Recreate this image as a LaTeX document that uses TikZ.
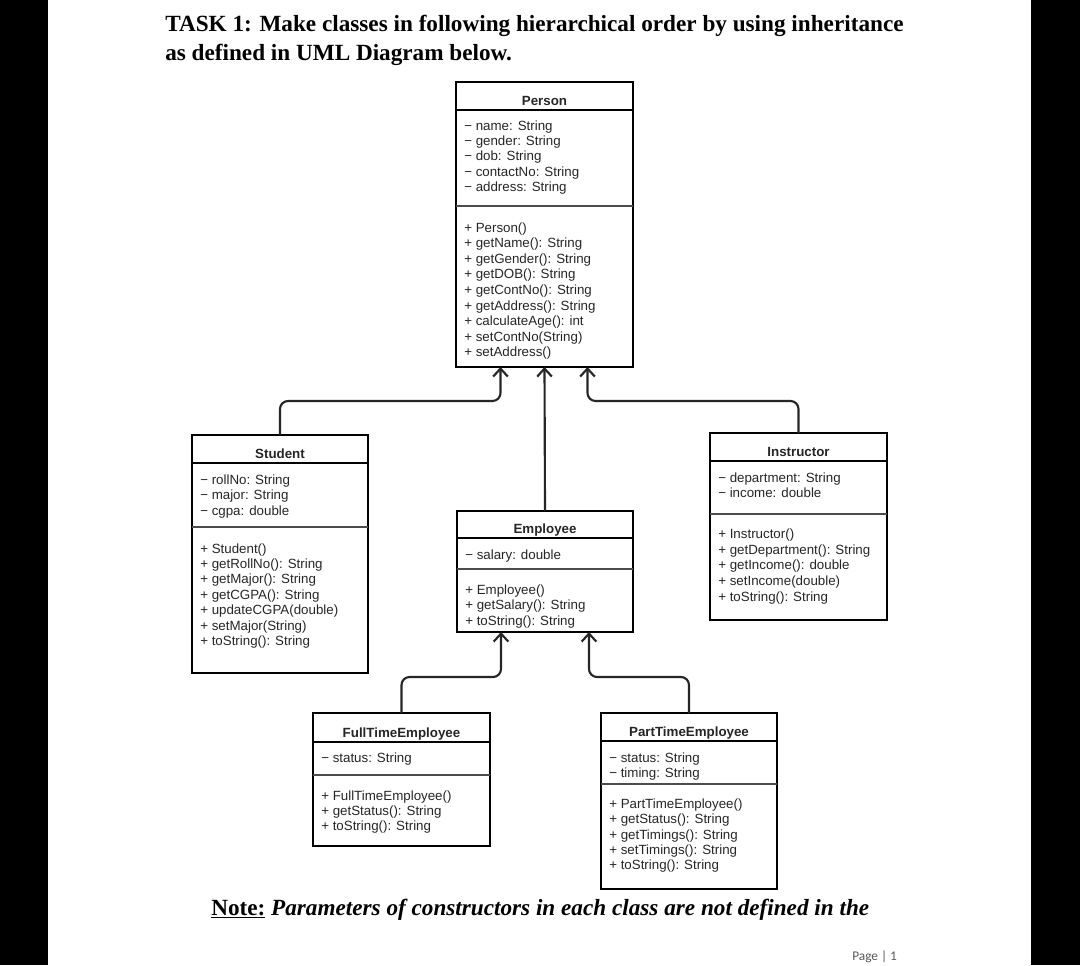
\documentclass[tikz,border=0pt]{standalone}
\usepackage{fontspec}
\setmainfont{Liberation Serif}
\newfontfamily\umlfont{Liberation Sans}
\newfontfamily\pagefont{Carlito}
\usetikzlibrary{arrows.meta,calc}
\newcommand{\umlbox}[8]{%
  \node[classbox, minimum width={(#4-#2)*0.75pt}, minimum height={(#5-#3)*0.75pt}] (#1) at (#2,#3) {};
  \draw[titlesep] (#2,#6) -- (#4,#6);
  \draw[attrsep] (#2,#7) -- (#4,#7);
  \node[ttl] (#1-title) at ({(#2+#4)/2},#6-5) {#8};
}
\newcommand{\umllines}[5]{%
  \foreach \t [count=\i] in {#5} {\node[mtxt] (#1\i) at (#2,{#3+(\i-1)*#4}) {\t};}
}
\begin{document}
\begin{tikzpicture}[x=0.75pt,y=-0.75pt,
  classbox/.style={draw=black, line width=2.2pt, fill=white, inner sep=0pt, outer sep=0pt, anchor=north west},
  titlesep/.style={line width=2.2pt, draw=black},
  attrsep/.style={line width=1.1pt, draw=black!70},
  mtxt/.style={font=\umlfont\fontsize{10pt}{12pt}\selectfont, anchor=base west, inner sep=0pt, text=black!85},
  ttl/.style={font=\umlfont\bfseries\fontsize{10pt}{12pt}\selectfont, anchor=base, inner sep=0pt, text=black!85},
  inh/.style={line width=1.6pt, draw=black!85, rounded corners=6pt, -{Straight Barb[length=6pt,width=11pt,line width=1.6pt]}},
  hdr/.style={font=\bfseries\fontsize{17.4pt}{22pt}\selectfont, anchor=base west, inner sep=0pt}]
\useasboundingbox (0,0) rectangle (1080,965);
\clip (0,0) rectangle (1080,965);
\fill[white] (0,0) rectangle (1080,965);
\fill[black] (0,0) rectangle (48,965);
\fill[black] (1031,0) rectangle (1080,965);

% header
\node[hdr] (h1) at (165,31) {TASK 1: Make classes in following hierarchical order by using inheritance};
\node[hdr] (h2) at (165,60) {as defined in UML Diagram below.};

% classes
\umlbox{person}{456}{82}{633}{367}{110}{206}{Person}
\umllines{pa}{464}{130}{15.4}{−~name: String,−~gender: String,−~dob: String,−~contactNo: String,−~address: String}
\umllines{pm}{464}{232}{15.6}{+~Person(),+~getName(): String,+~getGender(): String,+~getDOB(): String,+~getContNo(): String,+~getAddress(): String,+~calculateAge(): int,+~setContNo(String),+~setAddress()}

\umlbox{student}{192}{435}{368}{673}{463}{527}{Student}
\umllines{sa}{200}{484}{15.5}{−~rollNo: String,−~major: String,−~cgpa: double}
\umllines{sm}{200}{553}{15.4}{+~Student(),+~getRollNo(): String,+~getMajor(): String,+~getCGPA(): String,+~updateCGPA(double),+~setMajor(String),+~toString(): String}

\umlbox{instructor}{710}{433}{887}{620}{461}{514}{Instructor}
\umllines{ia}{718}{482}{15.4}{−~department: String,−~income: double}
\umllines{im}{718}{538.5}{15.7}{+~Instructor(),+~getDepartment(): String,+~getIncome(): double,+~setIncome(double),+~toString(): String}

\umlbox{employee}{457}{511}{633}{632}{538}{569}{Employee}
\umllines{ea}{465}{559}{15.5}{−~salary: double}
\umllines{em}{465}{594}{15.5}{+~Employee(),+~getSalary(): String,+~toString(): String}

\umlbox{fulltime}{313}{713}{490}{846}{742}{775}{FullTimeEmployee}
\umllines{fa}{321}{762}{15.5}{−~status: String}
\umllines{fm}{321}{800}{15.4}{+~FullTimeEmployee(),+~getStatus(): String,+~toString(): String}

\umlbox{parttime}{601}{713}{777}{889}{741}{784}{PartTimeEmployee}
\umllines{ta}{609}{762}{15.5}{−~status: String,−~timing: String}
\umllines{tm}{609}{808.3}{15.4}{+~PartTimeEmployee(),+~getStatus(): String,+~getTimings(): String,+~setTimings(): String,+~toString(): String}

% inheritance connectors
\coordinate (pL) at ($(person.south)+(-44,0)$);
\coordinate (pR) at ($(person.south)+(43,0)$);
\coordinate (eL) at ($(employee.south)+(-44,0)$);
\coordinate (eR) at ($(employee.south)+(44,0)$);
\draw[inh] (student.north) |- ($(pL)+(0,34)$) -- (pL);
\draw[inh] (employee.north) -- (person.south);
\draw[inh] (instructor.north) |- ($(pR)+(0,34)$) -- (pR);
\draw[inh] (fulltime.north) |- ($(eL)+(0,45)$) -- (eL);
\draw[inh] (parttime.north) |- ($(eR)+(0,45)$) -- (eR);

% note and page number
\node[hdr] (note) at (211,915) {\underline{Note:} \textit{Parameters of constructors in each class are not defined in the}};
\node[anchor=base west, inner sep=0pt, font=\pagefont\fontsize{10pt}{12pt}\selectfont, text=black!65] (page) at (852,960) {Page | 1};
\end{tikzpicture}
\end{document}
